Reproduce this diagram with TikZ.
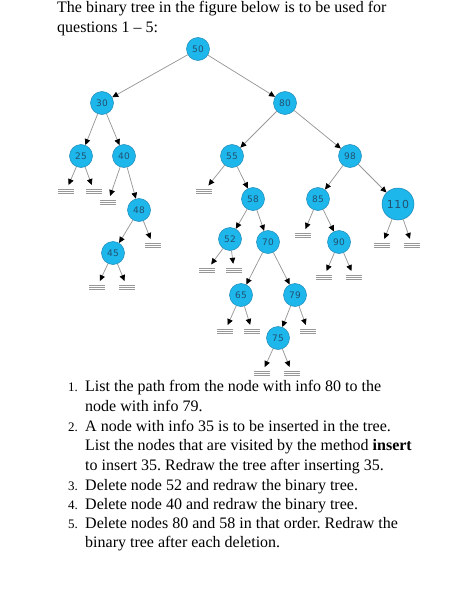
\documentclass[tikz,border=0pt]{standalone}
\usepackage{fontspec}
\setmainfont{Liberation Serif}
\newfontfamily\nodefont[LetterSpace=5]{DejaVu Sans}
\usetikzlibrary{arrows.meta}
\definecolor{nodefill}{HTML}{1DB7EC}
\definecolor{nodeedge}{HTML}{1A87B5}
\definecolor{nodetext}{HTML}{22506F}
\definecolor{linegray}{HTML}{989898}
\frenchspacing
\tikzset{
  bt/.style={circle, fill=nodefill, draw=nodeedge, line width=0.5pt, minimum size=23pt, inner sep=0pt,
    text=nodetext, font=\nodefont\fontsize{9}{9}\selectfont},
  btbig/.style={bt, minimum size=32pt, font=\nodefont\fontsize{11}{11}\selectfont},
  gnd/.style={rectangle, minimum width=16pt, minimum height=6pt, inner sep=0pt,
    path picture={
      \draw[linegray, line width=0.5pt]
        ([yshift=-0.8pt]path picture bounding box.north west) -- ([yshift=-0.8pt]path picture bounding box.north east)
        (path picture bounding box.west) -- (path picture bounding box.east)
        ([yshift=0.8pt]path picture bounding box.south west) -- ([yshift=0.8pt]path picture bounding box.south east);
    }},
  edge/.style={draw=linegray, line width=0.75pt, -{Triangle[length=6pt,width=5.5pt,color=black]}},
  nulledge/.style={edge, shorten >=3pt},
  txt/.style={anchor=base west, inner sep=0pt, font=\fontsize{16}{19}\selectfont},
  num/.style={anchor=base west, inner sep=0pt, font=\fontsize{13}{16}\selectfont},
}
\begin{document}
\begin{tikzpicture}[x=1pt,y=-1pt]
\useasboundingbox (0,0) rectangle (474,594);
% heading
\node[txt] (h1) at (57,13) {The binary tree in the figure below is to be used for};
\node[txt] (h2) at (57,33) {questions 1 -- 5:};
% tree nodes
\node[bt] (n50) at (198,49) {50};
\node[bt] (n30) at (102,103) {30};
\node[bt] (n80) at (285,103) {80};
\node[bt] (n25) at (81,156) {25};
\node[bt] (n40) at (124,156) {40};
\node[bt] (n55) at (232,156) {55};
\node[bt] (n98) at (350,156) {98};
\node[bt] (n48) at (139,210) {48};
\node[bt] (n58) at (253,199) {58};
\node[bt] (n85) at (318,199) {85};
\node[btbig] (n110) at (398,204) {110};
\node[bt] (n45) at (113,253) {45};
\node[bt] (n52) at (230,239) {52};
\node[bt] (n70) at (268,242) {70};
\node[bt] (n90) at (339,242) {90};
\node[bt] (n65) at (241,295) {65};
\node[bt] (n79) at (295,295) {79};
\node[bt] (n75) at (278,338) {75};
% null leaves
\node[gnd] (g25l) at (66,191) {};
\node[gnd] (g25r) at (94,191) {};
\node[gnd] (g40l) at (108,202) {};
\node[gnd] (g48r) at (153,245) {};
\node[gnd] (g45l) at (97,287) {};
\node[gnd] (g45r) at (127,287) {};
\node[gnd] (g55l) at (204,191) {};
\node[gnd] (g52l) at (207,270) {};
\node[gnd] (g52r) at (234,270) {};
\node[gnd] (g85l) at (303,235) {};
\node[gnd] (g90l) at (324,277) {};
\node[gnd] (g90r) at (354,277) {};
\node[gnd] (g110l) at (382,245) {};
\node[gnd] (g110r) at (412,245) {};
\node[gnd] (g65l) at (225,331) {};
\node[gnd] (g65r) at (252,331) {};
\node[gnd] (g79r) at (308,331) {};
\node[gnd] (g75l) at (262,373) {};
\node[gnd] (g75r) at (292,373) {};
% edges
\draw[edge] (n50) -- (n30);
\draw[edge] (n50) -- (n80);
\draw[edge] (n30) -- (n25);
\draw[edge] (n30) -- (n40);
\draw[edge] (n80) -- (n55);
\draw[edge] (n80) -- (n98);
\draw[edge] (n40) -- (n48);
\draw[edge] (n48) -- (n45);
\draw[edge] (n55) -- (n58);
\draw[edge] (n58) -- (n52);
\draw[edge] (n58) -- (n70);
\draw[edge] (n98) -- (n85);
\draw[edge] (n98) -- (n110);
\draw[edge] (n85) -- (n90);
\draw[edge] (n70) -- (n65);
\draw[edge] (n70) -- (n79);
\draw[edge] (n79) -- (n75);
% null edges
\draw[nulledge] (n25) -- (g25l);
\draw[nulledge] (n25) -- (g25r);
\draw[nulledge] (n40) -- (g40l);
\draw[nulledge] (n48) -- (g48r);
\draw[nulledge] (n45) -- (g45l);
\draw[nulledge] (n45) -- (g45r);
\draw[nulledge] (n55) -- (g55l);
\draw[nulledge] (n52) -- (g52l);
\draw[nulledge] (n52) -- (g52r);
\draw[nulledge] (n85) -- (g85l);
\draw[nulledge] (n90) -- (g90l);
\draw[nulledge] (n90) -- (g90r);
\draw[nulledge] (n110) -- (g110l);
\draw[nulledge] (n110) -- (g110r);
\draw[nulledge] (n65) -- (g65l);
\draw[nulledge] (n65) -- (g65r);
\draw[nulledge] (n79) -- (g79r);
\draw[nulledge] (n75) -- (g75l);
\draw[nulledge] (n75) -- (g75r);
% questions
\node[num] (q1n) at (68,391) {1.};
\node[txt] (q1a) at (85,391) {List the path from the node with info 80 to the};
\node[txt] (q1b) at (85,411) {node with info 79.};
\node[num] (q2n) at (68,431) {2.};
\node[txt] (q2a) at (85,431) {A node with info 35 is to be inserted in the tree.};
\node[txt] (q2b) at (85,450) {List the nodes that are visited by the method \textbf{insert}};
\node[txt] (q2c) at (85,470) {to insert 35. Redraw the tree after inserting 35.};
\node[num] (q3n) at (68,490) {3.};
\node[txt] (q3a) at (85,490) {Delete node 52 and redraw the binary tree.};
\node[num] (q4n) at (68,509) {4.};
\node[txt] (q4a) at (85,509) {Delete node 40 and redraw the binary tree.};
\node[num] (q5n) at (68,528) {5.};
\node[txt] (q5a) at (85,528) {Delete nodes 80 and 58 in that order. Redraw the};
\node[txt] (q5b) at (85,547) {binary tree after each deletion.};
\end{tikzpicture}
\end{document}
